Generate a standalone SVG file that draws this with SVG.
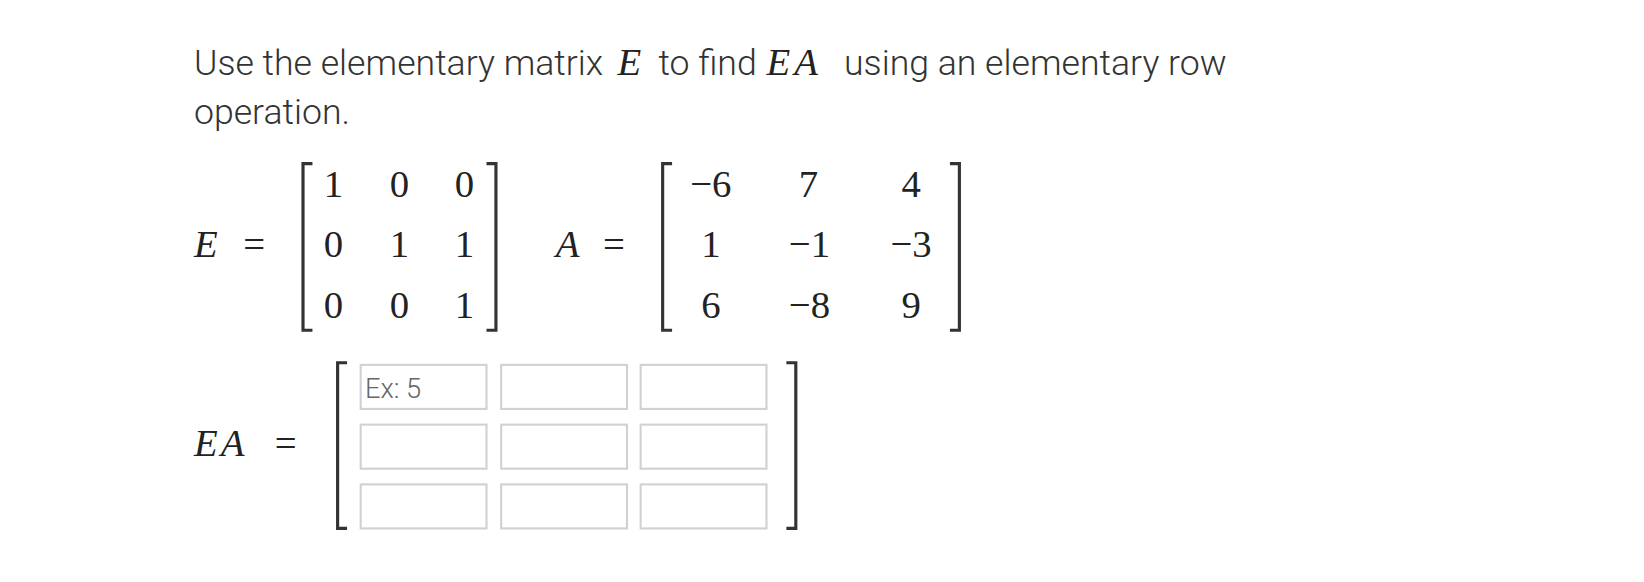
<svg xmlns="http://www.w3.org/2000/svg" width="1644" height="582" viewBox="0 0 1644 582">
<style>
.t{font-family:Roboto,"Liberation Sans",sans-serif;font-weight:300;font-size:34px;fill:#333}
.m{font-family:"Liberation Serif",serif;font-size:37px;fill:#222}
.i{font-style:italic}
.br{fill:none;stroke:#333;stroke-width:3}
.box{fill:#fff;stroke:#ccd2d6;stroke-width:2}
.ph{font-family:Roboto,"Liberation Sans",sans-serif;font-weight:300;font-size:26px;fill:#666}
</style>
<rect width="1644" height="582" fill="#fff"/>
<g transform="scale(1.0485)">
<g id="question">
<text class="t" x="185" y="72">Use the elementary matrix <tspan x="589" class="m i" font-size="40">E</tspan><tspan x="628">to find </tspan><tspan x="731" class="m i" font-size="40" letter-spacing="4">EA</tspan><tspan x="805">using an elementary row</tspan></text>
<text class="t" x="185" y="118">operation.</text>
</g>
<g id="matrixE">
<text class="m i" x="185" y="245">E</text><text class="m" x="232" y="245">=</text>
<path class="br" d="M298,156 H289 V315 H298 M464,156 H473 V315 H464"/>
<g class="m" text-anchor="middle">
<text x="318" y="188">1</text><text x="381" y="188">0</text><text x="443" y="188">0</text>
<text x="318" y="245">0</text><text x="381" y="245">1</text><text x="443" y="245">1</text>
<text x="318" y="303">0</text><text x="381" y="303">0</text><text x="443" y="303">1</text>
</g>
</g>
<g id="matrixA">
<text class="m i" x="530" y="245">A</text><text class="m" x="575" y="245">=</text>
<path class="br" d="M641,156 H632 V315 H641 M906,156 H915 V315 H906"/>
<g class="m" text-anchor="middle">
<text x="678" y="188">−6</text><text x="771" y="188">7</text><text x="869" y="188">4</text>
<text x="678" y="245">1</text><text x="772" y="245">−1</text><text x="869" y="245">−3</text>
<text x="678" y="303">6</text><text x="772" y="303">−8</text><text x="869" y="303">9</text>
</g>
</g>
<g id="matrixEA">
<text class="m i" x="185" y="435" letter-spacing="3">EA</text><text class="m" x="262" y="435">=</text>
<path class="br" d="M331,346 H322 V504 H331 M750,346 H759 V504 H750"/>
<rect class="box" x="344" y="348" width="120" height="42"/>
<rect class="box" x="478" y="348" width="120" height="42"/>
<rect class="box" x="611" y="348" width="120" height="42"/>
<rect class="box" x="344" y="405" width="120" height="42"/>
<rect class="box" x="478" y="405" width="120" height="42"/>
<rect class="box" x="611" y="405" width="120" height="42"/>
<rect class="box" x="344" y="462" width="120" height="42"/>
<rect class="box" x="478" y="462" width="120" height="42"/>
<rect class="box" x="611" y="462" width="120" height="42"/>
<text class="ph" x="348" y="380">Ex: 5</text>
</g>
</g>
</svg>
